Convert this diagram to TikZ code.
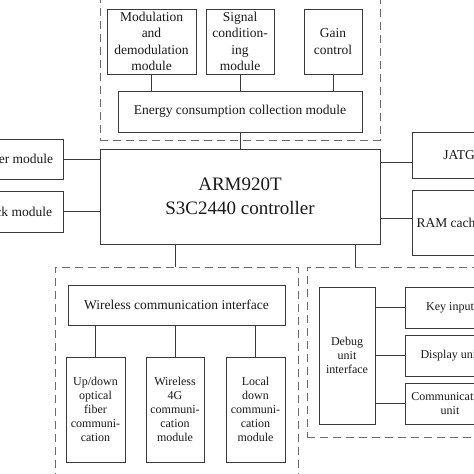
\documentclass[tikz,border=0pt]{standalone}
\usepackage{fontspec}
\setmainfont{Liberation Serif}
\definecolor{linec}{HTML}{3A3A3A}
\definecolor{dashc}{HTML}{6A6A6A}
\definecolor{textc}{HTML}{1A1A1A}
\tikzset{
  box/.style={draw=linec, line width=0.8pt, inner sep=0pt, align=center, text=textc, fill=white},
  mfont/.style={font=\fontsize{13.5}{16.3}\selectfont},
  sfont/.style={font=\fontsize{12}{14}\selectfont},
  bfont/.style={font=\fontsize{19}{24}\selectfont},
  frame/.style={draw=dashc, line width=0.8pt, dash pattern=on 8pt off 5pt, inner sep=0pt},
  conn/.style={draw=linec, line width=0.8pt}
}
\begin{document}
\begin{tikzpicture}[x=1pt,y=-1pt]
\useasboundingbox (0,0) rectangle (474,474);
\clip (0,0) rectangle (474,474);
\fill[white] (0,0) rectangle (474,474);
% dashed frames
\node[frame, minimum width=280pt, minimum height=150pt] (ft) at (240,65) {};
\node[frame, minimum width=243pt, minimum height=218pt] (fl) at (176.5,376) {};
\node[frame, minimum width=203pt, minimum height=170pt] (fr) at (408.5,352) {};
% top group
\node[box, mfont, minimum width=89pt, minimum height=65pt] (mod) at (151.5,41.5) {Modulation\\and\\demodulation\\module};
\node[box, mfont, minimum width=68pt, minimum height=65pt] (sig) at (240,41.5) {Signal\\condition-\\ing\\module};
\node[box, mfont, minimum width=58pt, minimum height=65pt] (gain) at (333,41.5) {Gain\\control};
\node[box, mfont, minimum width=244pt, minimum height=41pt] (en) at (240,111.5) {Energy consumption collection module};
% controller
\node[box, bfont, minimum width=280pt, minimum height=95pt] (arm) at (240,196.5) {ARM920T\\S3C2440 controller};
% left
\node[box, mfont, minimum width=98pt, minimum height=40pt] (pow) at (14,159) {Power module};
\node[box, mfont, minimum width=98pt, minimum height=41pt] (clk) at (14,211.5) {Clock module};
% right
\node[box, mfont, minimum width=94pt, minimum height=46pt] (jatg) at (459,155) {JATG};
\node[box, mfont, minimum width=74pt, minimum height=65pt] (ram) at (449,222.5) {RAM cache};
% bottom left
\node[box, mfont, minimum width=217pt, minimum height=40pt] (wi) at (176.5,305) {Wireless communication interface};
\node[box, sfont, minimum width=59pt, minimum height=105pt] (up) at (95.5,409.5) {Up/down\\optical\\fiber\\communi-\\cation};
\node[box, sfont, minimum width=58pt, minimum height=105pt] (w4g) at (175,409.5) {Wireless\\4G\\communi-\\cation\\module};
\node[box, sfont, minimum width=59pt, minimum height=105pt] (loc) at (255.5,409.5) {Local\\down\\communi-\\cation\\module};
% bottom right
\node[box, sfont, minimum width=56pt, minimum height=137pt] (dbg) at (347,355.5) {Debug\\unit\\interface};
\node[box, sfont, minimum width=90pt, minimum height=41pt] (key) at (450,307.5) {Key input};
\node[box, sfont, minimum width=90pt, minimum height=41pt] (disp) at (450,355.5) {Display unit};
\node[box, sfont, minimum width=90pt, minimum height=41pt] (comm) at (450,403.5) {Communication\\unit};
% connectors
\draw[conn] (mod.south) -- (mod.south |- en.north);
\draw[conn] (sig.south) -- (sig.south |- en.north);
\draw[conn] (gain.south) -- (gain.south |- en.north);
\draw[conn] (en.south) -- (arm.north);
\draw[conn] (pow.east) -- (pow.east -| arm.west);
\draw[conn] (clk.east) -- (clk.east -| arm.west);
\draw[conn] ([yshift=-7pt]jatg.west) -- ([yshift=-7pt]jatg.west -| arm.east);
\draw[conn] ([yshift=4.5pt]ram.west) -- ([yshift=4.5pt]ram.west -| arm.east);
\draw[conn] ([xshift=-65pt]arm.south) -- ([xshift=-65pt]arm.south |- fl.north);
\draw[conn] ([xshift=115pt]arm.south) -- ([xshift=115pt]arm.south |- fr.north);
\draw[conn] (up.north) -- (up.north |- wi.south);
\draw[conn] (w4g.north) -- (w4g.north |- wi.south);
\draw[conn] (loc.north) -- (loc.north |- wi.south);
\draw[conn] (key.west) -- (key.west -| dbg.east);
\draw[conn] (disp.west) -- (disp.west -| dbg.east);
\draw[conn] (comm.west) -- (comm.west -| dbg.east);
\end{tikzpicture}
\end{document}
